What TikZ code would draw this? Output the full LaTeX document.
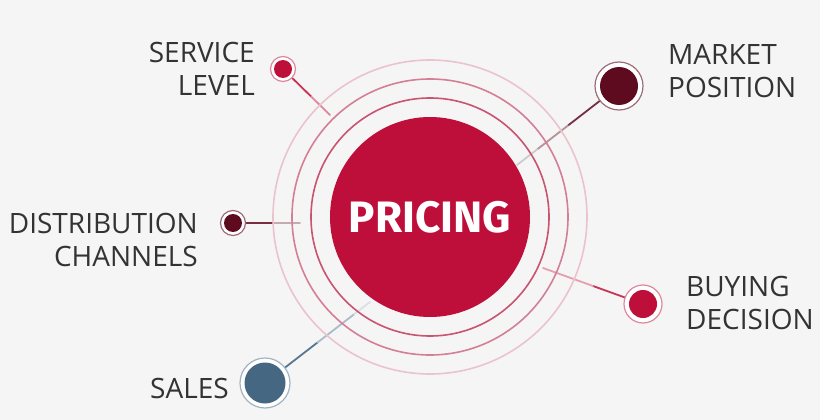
\documentclass[tikz,border=0pt]{standalone}
\usepackage{fontspec}
\setmainfont{Open Sans}
\newfontfamily\pricefont{Fira Sans}
\usetikzlibrary{calc}
\definecolor{bg}{HTML}{F5F5F5}
\definecolor{crim}{HTML}{BE0F3A}
\definecolor{maroon}{HTML}{5E0A1F}
\definecolor{steel}{HTML}{456782}
\definecolor{ringA}{HTML}{C8546F}
\definecolor{ringB}{HTML}{D47F95}
\definecolor{ringC}{HTML}{EBC3CD}
\definecolor{txt}{HTML}{333333}
\tikzset{
  lbl/.style={text=txt, font=\fontsize{28}{33}\selectfont, inner sep=0pt},
  ring/.style={line width=1.6pt},
  satout/.style={circle, fill=white, draw=#1, line width=1.2pt, inner sep=0pt},
  satin/.style={circle, fill=#1, inner sep=0pt},
  conn/.style={line width=1.8pt, line cap=round}
}
\begin{document}
\begin{tikzpicture}[x=1pt,y=-1pt]
\fill[bg] (0,0) rectangle (820,420);
\useasboundingbox (0,0) rectangle (820,420);
\coordinate (c) at (430,217);
% connector inner ends
\coordinate (svE) at (330,115);
\coordinate (mpE) at (517,165);
\coordinate (dcE) at (300,223);
\coordinate (bdE) at (543,268);
\coordinate (saE) at (370,302);
% satellite positions
\coordinate (sv) at (283,69);
\coordinate (mp) at (619,86);
\coordinate (dc) at (233,223);
\coordinate (bd) at (643,304);
\coordinate (sa) at (265,383);
% connectors with fade
\draw[conn, crim!85!white] (sv) -- ($(sv)!0.6!(svE)$);
\draw[conn, crim!50!white] ($(sv)!0.6!(svE)$) -- (svE);
\draw[conn, maroon!85!white] (mp) -- ($(mp)!0.5!(mpE)$);
\draw[conn, maroon!45!white] ($(mp)!0.5!(mpE)$) -- ($(mp)!0.8!(mpE)$);
\draw[conn, black!20] ($(mp)!0.8!(mpE)$) -- (mpE);
\draw[conn, maroon!85!white] (dc) -- ($(dc)!0.6!(dcE)$);
\draw[conn, maroon!35!white] ($(dc)!0.6!(dcE)$) -- (dcE);
\draw[conn, crim!85!white] (bd) -- ($(bd)!0.5!(bdE)$);
\draw[conn, crim!40!white] ($(bd)!0.5!(bdE)$) -- (bdE);
\draw[conn, steel!90!white] (sa) -- ($(sa)!0.5!(saE)$);
\draw[conn, steel!45!white] ($(sa)!0.5!(saE)$) -- ($(sa)!0.85!(saE)$);
\draw[conn, steel!20!white] ($(sa)!0.85!(saE)$) -- (saE);
% rings
\draw[ring, ringC] (c) circle[radius=157];
\draw[ring, ringB] (c) circle[radius=138];
\draw[ring, ringA] (c) circle[radius=119];
\node[circle, fill=crim, minimum size=200pt, inner sep=0pt] (main) at (c) {};
\node[text=white, font=\pricefont\fontsize{44}{44}\bfseries\selectfont, inner sep=0pt] (pricing) at (c) {PRICING};
% satellite nodes
\node[satout=crim!50!white, minimum size=25pt] (svO) at (sv) {};
\node[satin=crim, minimum size=18pt] (svI) at (sv) {};
\node[satout=maroon!60!white, minimum size=48pt] (mpO) at (mp) {};
\node[satin=maroon, minimum size=38pt] (mpI) at (mp) {};
\node[satout=maroon!60!white, minimum size=25pt] (dcO) at (dc) {};
\node[satin=maroon, minimum size=18pt] (dcI) at (dc) {};
\node[satout=crim!50!white, minimum size=38pt] (bdO) at (bd) {};
\node[satin=crim, minimum size=28pt] (bdI) at (bd) {};
\node[satout=steel!50!white, minimum size=50pt] (saO) at (sa) {};
\node[satin=steel, minimum size=41pt] (saI) at (sa) {};
% labels
\node[lbl, align=right, anchor=east] (svL) at (255,69) {SERVICE\\LEVEL};
\node[lbl, align=left, anchor=west] (mpL) at (668,71) {MARKET\\POSITION};
\node[lbl, align=right, anchor=east] (dcL) at (198,240) {DISTRIBUTION\\CHANNELS};
\node[lbl, align=left, anchor=west] (bdL) at (686,303) {BUYING\\DECISION};
\node[lbl, anchor=east] (saL) at (229,388) {SALES};
\end{tikzpicture}
\end{document}
